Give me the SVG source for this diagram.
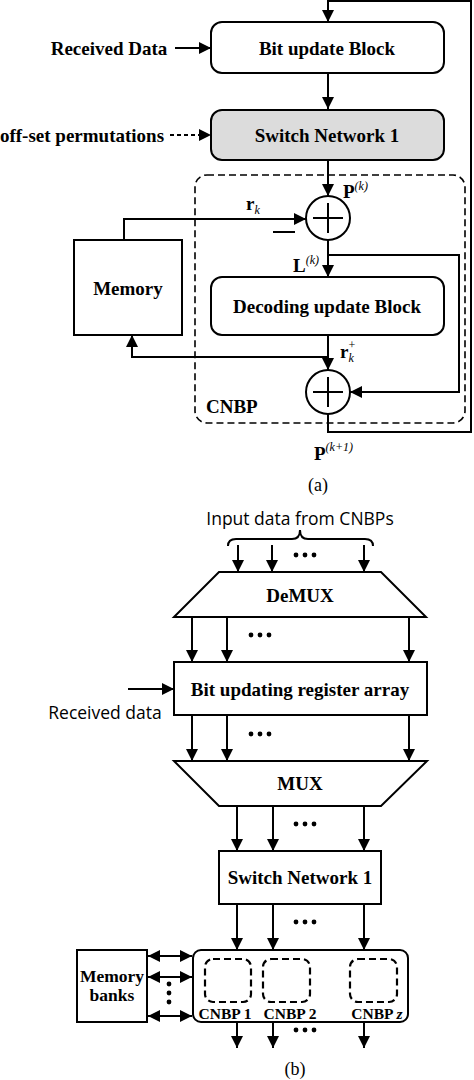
<svg xmlns="http://www.w3.org/2000/svg" width="474" height="1080" viewBox="0 0 474 1080">
<style>
.box{fill:#fff;stroke:#000;stroke-width:2}
.gray{fill:#dcdcdc;stroke:#000;stroke-width:2}
.dash{fill:none;stroke:#000;stroke-width:1.6;stroke-dasharray:7,4}
.dash2{fill:none;stroke:#000;stroke-width:2.2;stroke-dasharray:7,4}
.ln{fill:none;stroke:#000;stroke-width:2}
.arr{fill:none;stroke:#000;stroke-width:2;marker-end:url(#ah)}
.dbl{fill:none;stroke:#000;stroke-width:2;marker-end:url(#ah);marker-start:url(#ah)}
.t{font-family:"Liberation Serif",serif;font-weight:bold;font-size:19px;fill:#000;text-anchor:middle;dominant-baseline:central}
.tl{font-family:"Liberation Serif",serif;font-weight:bold;font-size:19px;fill:#000}
.sm{font-size:15.5px}
.mb{font-size:17.5px}
.s{font-family:"Open Sans","Liberation Sans",sans-serif;font-size:17.5px;fill:#000;text-anchor:middle;dominant-baseline:central}
.cap{font-family:"Liberation Serif",serif;font-size:18px;fill:#000;text-anchor:middle;dominant-baseline:central}
.sup{font-family:"Liberation Serif",serif;font-style:italic;font-size:12px;font-weight:normal}
.dot{fill:#000}
</style>
<defs>
<marker id="ah" markerUnits="userSpaceOnUse" markerWidth="12" markerHeight="12" viewBox="0 0 12 12" refX="12" refY="6" orient="auto-start-reverse">
<path d="M0,0 L12,6 L0,12 z" fill="#000"/>
</marker>
</defs>

<!-- ===== Part (a) ===== -->
<g id="connectors-a">
<path class="arr" d="M328,0 L328,22"/>
<path class="arr" d="M175,48 L211,48"/>
<path class="arr" d="M328,73 L328,109"/>
<path class="arr" d="M170,135 L211,135" stroke-dasharray="4,3"/>
<path class="arr" d="M328,160 L328,196"/>
<path class="arr" d="M124,240 L124,219 L306,219"/>
<path class="arr" d="M328,240 L328,277"/>
<path class="arr" d="M328,255 L459,255 L459,392 L350,392"/>
<path class="arr" d="M328,335 L328,370"/>
<path class="arr" d="M328,357 L132,357 L132,335"/>
<path class="ln" d="M328,414 L328,432 L471,432 L471,1 L328,1"/>
</g>
<g id="cnbp-boundary"><rect class="dash" x="195" y="175" width="270" height="248" rx="12"/></g>
<g id="bit-update"><rect class="box" x="211" y="22" width="233" height="51" rx="11"/><text class="t" x="327" y="48">Bit update Block</text></g>
<g id="received-data"><text class="t" x="109" y="48">Received Data</text></g>
<g id="switch-network-a"><rect class="gray" x="211" y="110" width="233" height="50" rx="11"/><text class="t" x="327" y="135">Switch Network 1</text></g>
<g id="offset-perm"><text class="t" x="82" y="135">off-set permutations</text></g>
<g id="adder1"><circle class="box" cx="328" cy="218" r="22"/><path class="ln" d="M313,218 H343 M328,203 V233"/></g>
<g id="memory-a"><rect class="box" x="74" y="240" width="108" height="95"/><text class="t" x="128" y="288">Memory</text></g>
<g id="decoding"><rect class="box" x="211" y="277" width="233" height="58" rx="11"/><text class="t" x="327" y="306">Decoding update Block</text></g>
<g id="adder2"><circle class="box" cx="328" cy="392" r="22"/><path class="ln" d="M313,392 H343 M328,377 V407"/></g>
<g id="labels-a">
<text class="tl" x="343" y="198">P<tspan class="sup" dy="-8">(k)</tspan></text>
<text class="tl" x="246" y="210">r<tspan class="sup" dy="4">k</tspan></text>
<path class="ln" d="M273,232 H295" stroke-width="2.5"/>
<text class="tl" x="293" y="272">L<tspan class="sup" dy="-8">(k)</tspan></text>
<text class="tl" x="340" y="358">r<tspan class="sup" dy="4">k</tspan><tspan class="sup" dx="-6" dy="-13">+</tspan></text>
<text class="tl" x="206" y="413">CNBP</text>
<text class="tl" x="314" y="460">P<tspan class="sup" dy="-9">(k+1)</tspan></text>
<text class="cap" x="318" y="485">(a)</text>
</g>

<!-- ===== Part (b) ===== -->
<g id="input-label"><text class="s" x="300" y="518">Input data from CNBPs</text>
<path class="ln" stroke-width="1.3" d="M228,546 Q228,539 236,539 L292,539 Q300,539 300,530 Q300,539 308,539 L365,539 Q373,539 373,546"/></g>
<g id="connectors-b">
<path class="arr" d="M238,545 V572"/><path class="arr" d="M272,545 V572"/><path class="arr" d="M364,545 V572"/>
<path class="arr" d="M192,617 V662"/><path class="arr" d="M227,617 V662"/><path class="arr" d="M409,617 V662"/>
<path class="arr" d="M128,689 H174"/>
<path class="arr" d="M192,715 V761"/><path class="arr" d="M227,715 V761"/><path class="arr" d="M409,715 V761"/>
<path class="arr" d="M237,806 V851"/><path class="arr" d="M273,806 V851"/><path class="arr" d="M364,806 V851"/>
<path class="arr" d="M237,904 V950"/><path class="arr" d="M273,904 V950"/><path class="arr" d="M364,904 V950"/>
<path class="arr" d="M237,1022 V1048"/><path class="arr" d="M273,1022 V1048"/><path class="arr" d="M364,1022 V1048"/>
<path class="dbl" d="M148,956 H192"/><path class="dbl" d="M148,977 H192"/><path class="dbl" d="M148,1016 H192"/>
</g>
<g id="dots-b">
<circle class="dot" cx="296" cy="555" r="2.4"/><circle class="dot" cx="305" cy="555" r="2.4"/><circle class="dot" cx="314" cy="555" r="2.4"/>
<circle class="dot" cx="251" cy="635" r="2.4"/><circle class="dot" cx="260" cy="635" r="2.4"/><circle class="dot" cx="269" cy="635" r="2.4"/>
<circle class="dot" cx="251" cy="734" r="2.4"/><circle class="dot" cx="260" cy="734" r="2.4"/><circle class="dot" cx="269" cy="734" r="2.4"/>
<circle class="dot" cx="296" cy="824" r="2.4"/><circle class="dot" cx="305" cy="824" r="2.4"/><circle class="dot" cx="314" cy="824" r="2.4"/>
<circle class="dot" cx="296" cy="922" r="2.4"/><circle class="dot" cx="305" cy="922" r="2.4"/><circle class="dot" cx="314" cy="922" r="2.4"/>
<circle class="dot" cx="296" cy="1030" r="2.4"/><circle class="dot" cx="305" cy="1030" r="2.4"/><circle class="dot" cx="314" cy="1030" r="2.4"/>
<circle class="dot" cx="321" cy="987" r="2.4"/><circle class="dot" cx="330" cy="987" r="2.4"/><circle class="dot" cx="339" cy="987" r="2.4"/>
<circle class="dot" cx="169" cy="984" r="2.4"/><circle class="dot" cx="169" cy="993" r="2.4"/><circle class="dot" cx="169" cy="1002" r="2.4"/>
</g>
<g id="demux"><path class="box" d="M219,572 H381 L426,617 H174 Z"/><text class="t" x="300" y="595">DeMUX</text></g>
<g id="register-array"><rect class="box" x="174" y="662" width="253" height="53"/><text class="t" x="300" y="689">Bit updating register array</text></g>
<g id="received-data-b"><text class="s" x="105" y="712">Received data</text></g>
<g id="mux"><path class="box" d="M174,761 H427 L381,806 H219 Z"/><text class="t" x="300" y="783">MUX</text></g>
<g id="switch-network-b"><rect class="box" x="219" y="851" width="162" height="53"/><text class="t" x="300" y="877">Switch Network 1</text></g>
<g id="cnbp-array"><rect class="box" x="193" y="950" width="215" height="72" rx="8"/>
<rect class="dash2" x="205" y="959" width="46" height="43" rx="8"/>
<rect class="dash2" x="263" y="959" width="47" height="43" rx="8"/>
<rect class="dash2" x="350" y="959" width="47" height="43" rx="8"/>
<text class="t sm" x="225" y="1013">CNBP 1</text>
<text class="t sm" x="290" y="1013">CNBP 2</text>
<text class="t sm" x="377" y="1013">CNBP <tspan font-style="italic">z</tspan></text>
</g>
<g id="memory-banks"><rect class="box" x="77" y="950" width="70" height="72"/><text class="t mb" x="112" y="976">Memory</text><text class="t mb" x="112" y="995">banks</text></g>
<text class="cap" x="295" y="1069">(b)</text>
</svg>
